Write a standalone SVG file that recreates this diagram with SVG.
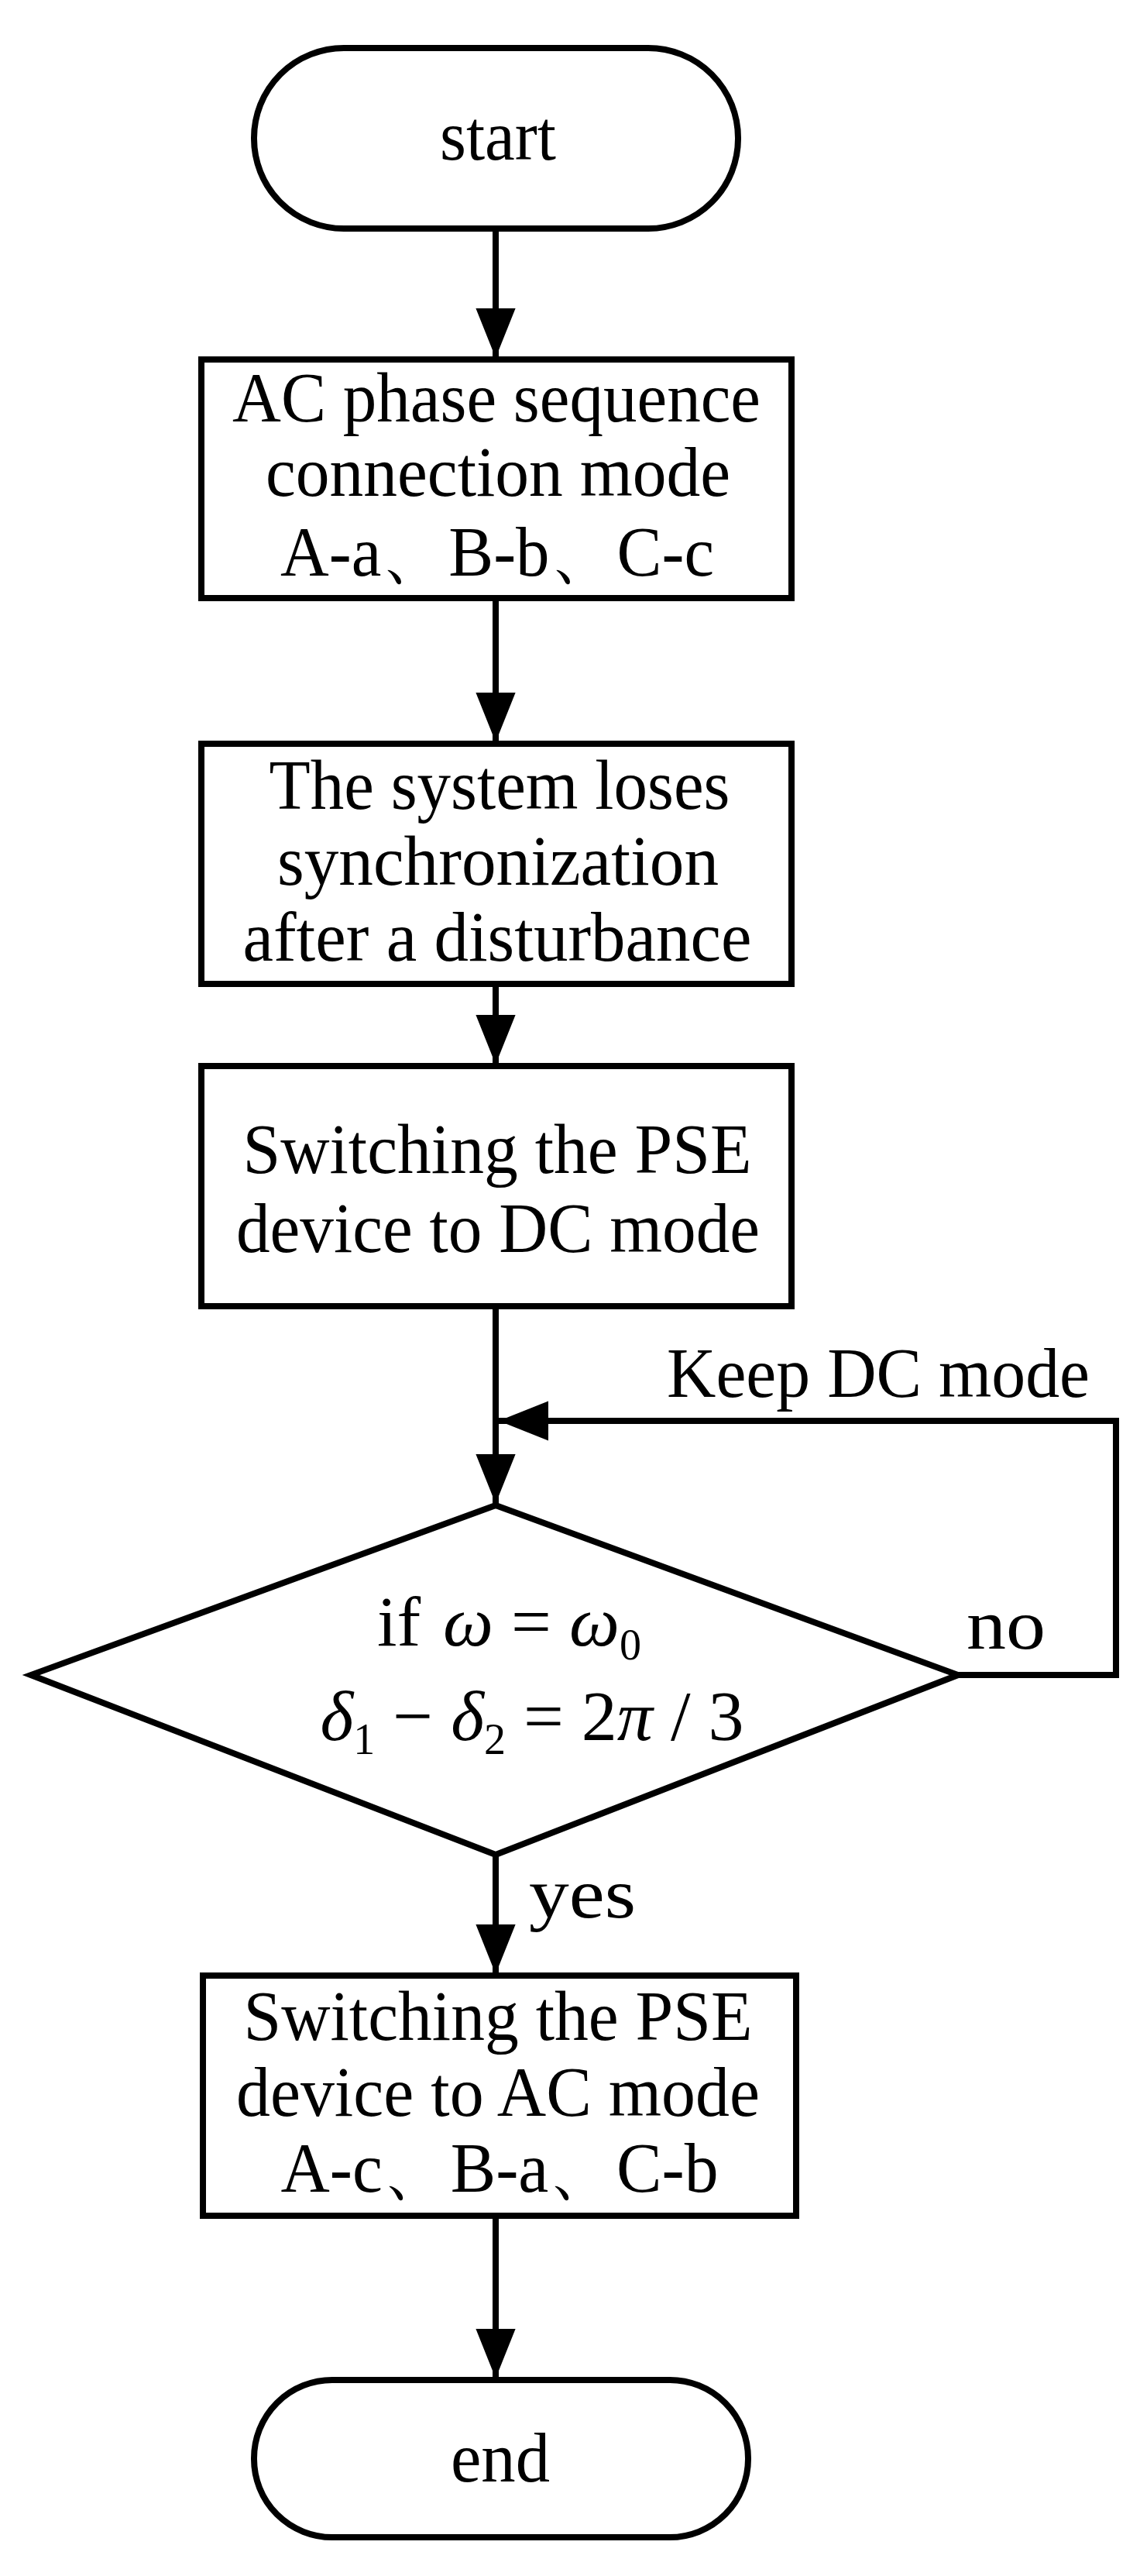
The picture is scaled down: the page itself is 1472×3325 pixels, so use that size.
<svg xmlns="http://www.w3.org/2000/svg" width="1472" height="3325" viewBox="0 0 1472 3325">
<style>
.s{fill:#fff;stroke:#000;stroke-width:8}
.l{fill:none;stroke:#000;stroke-width:8}
text{font-family:"Liberation Serif","Times New Roman",serif;font-size:92px;fill:#000;text-anchor:middle}
.i{font-style:italic}
</style>
<defs><marker id="a" markerUnits="userSpaceOnUse" markerWidth="64" markerHeight="84" refX="80" refY="32" viewBox="0 0 80 64" orient="auto"><path d="M0,0L80,32L0,64z" fill="#000"/></marker></defs>
<rect width="1472" height="3325" fill="#fff"/>
<g id="connectors">
<path class="l" d="M640,299V462" marker-end="url(#a)"/>
<path class="l" d="M640,772V958" marker-end="url(#a)"/>
<path class="l" d="M640,1270V1374" marker-end="url(#a)"/>
<path class="l" d="M640,1686V1941" marker-end="url(#a)"/>
<path class="l" d="M1237,2162H1441V1834H644" marker-end="url(#a)"/>
<path class="l" d="M640,2394V2548" marker-end="url(#a)"/>
<path class="l" d="M640,2860V3070" marker-end="url(#a)"/>
<text x="1134" y="1803" textLength="546" lengthAdjust="spacingAndGlyphs">Keep DC mode</text>
<text x="1299" y="2128" textLength="102" lengthAdjust="spacingAndGlyphs">no</text>
<text x="752" y="2475" textLength="138" lengthAdjust="spacingAndGlyphs">yes</text>
</g>
<g id="start"><rect class="s" x="328" y="62" width="625" height="233" rx="116"/><text x="643" y="206" textLength="150" lengthAdjust="spacingAndGlyphs">start</text></g>
<g id="box1"><rect class="s" x="260" y="464" width="762" height="308"/>
<text x="641" y="544" textLength="682" lengthAdjust="spacingAndGlyphs">AC phase sequence</text>
<text x="643" y="640" textLength="600" lengthAdjust="spacingAndGlyphs">connection mode</text>
<text x="642" y="743" textLength="560" lengthAdjust="spacingAndGlyphs">A-a、B-b、C-c</text></g>
<g id="box2"><rect class="s" x="260" y="960" width="762" height="310"/>
<text x="645" y="1044" textLength="595" lengthAdjust="spacingAndGlyphs">The system loses</text>
<text x="643" y="1142" textLength="570" lengthAdjust="spacingAndGlyphs">synchronization</text>
<text x="642" y="1240" textLength="657" lengthAdjust="spacingAndGlyphs">after a disturbance</text></g>
<g id="box3"><rect class="s" x="260" y="1376" width="762" height="310"/>
<text x="642" y="1514" textLength="657" lengthAdjust="spacingAndGlyphs">Switching the PSE</text>
<text x="643" y="1616" textLength="676" lengthAdjust="spacingAndGlyphs">device to DC mode</text></g>
<g id="decision"><path class="s" d="M640,1943L1237,2162L640,2394L40,2162Z"/>
<text x="515" y="2124">if</text>
<text x="700" y="2124"><tspan class="i">ω</tspan> = <tspan class="i">ω</tspan><tspan font-size="56" dy="18">0</tspan></text>
<text x="687" y="2246"><tspan class="i">δ</tspan><tspan font-size="56" dy="18">1</tspan><tspan dy="-18"> − </tspan><tspan class="i">δ</tspan><tspan font-size="56" dy="18">2</tspan><tspan dy="-18"> = 2</tspan><tspan class="i">π</tspan> / 3</text></g>
<g id="box4"><rect class="s" x="262" y="2550" width="766" height="310"/>
<text x="643" y="2633" textLength="657" lengthAdjust="spacingAndGlyphs">Switching the PSE</text>
<text x="643" y="2731" textLength="676" lengthAdjust="spacingAndGlyphs">device to AC mode</text>
<text x="645" y="2829" textLength="565" lengthAdjust="spacingAndGlyphs">A-c、B-a、C-b</text></g>
<g id="end"><rect class="s" x="328" y="3072" width="638" height="203" rx="101"/><text x="646" y="3203" textLength="128" lengthAdjust="spacingAndGlyphs">end</text></g>
</svg>
